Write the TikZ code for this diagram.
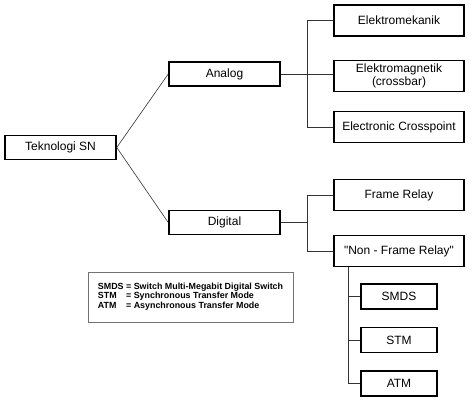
\documentclass[tikz,border=0pt]{standalone}
\usepackage{fontspec}
\setmainfont{Liberation Sans}
\usepackage{tikz}
\usepackage{xcolor}
\tikzset{
    sn-box/.style = {draw=black, fill=white, line width=1.5pt, rectangle, inner sep=0pt, align=center, font=\fontsize{12}{13}\selectfont},
    root-box/.style = {sn-box, minimum width=111pt, minimum height=24pt},
    leaf-box/.style = {sn-box, minimum width=130pt, minimum height=31pt},
    small-box/.style = {sn-box, minimum width=76pt, minimum height=25pt},
    sn-line/.style = {draw=black!80, line width=0.6pt},
    legend-box/.style = {draw=black!55, thin, rectangle, minimum width=205pt, minimum height=50pt, inner sep=0pt, font=\fontsize{8.9}{9.6}\selectfont\bfseries},
}

\begin{document}
\begin{tikzpicture}[x=1pt, y=-1pt]
\useasboundingbox (0,0) rectangle (474,402);
\node [root-box] (tek) at (60.5,147.5) {Teknologi SN};
\node [root-box] (analog) at (224.5,74) {Analog};
\node [root-box] (digital) at (224.5,222.5) {Digital};
\node [leaf-box] (mekanik) at (399,20.5) {Elektromekanik};
\node [leaf-box] (magnetik) at (399,76) {Elektromagnetik\\(crossbar)};
\node [leaf-box] (crosspoint) at (399,127) {Electronic Crosspoint};
\node [leaf-box] (frame) at (399,195) {Frame Relay};
\node [leaf-box] (nonframe) at (399,251) {\textquotedbl Non - Frame Relay\textquotedbl};
\node [small-box] (smds) at (399,296.5) {SMDS};
\node [small-box] (stm) at (399,340) {STM};
\node [small-box] (atm) at (399,383.5) {ATM};
\node [legend-box] (legend) at (190.5,297) {\begin{tabular}{@{}l@{ }l@{}}
    SMDS & = Switch Multi-Megabit Digital Switch \\
    STM & = Synchronous Transfer Mode \\
    ATM & = Asynchronous Transfer Mode
\end{tabular}};

\coordinate (a-fork) at (307,74);
\coordinate (d-fork) at (307,222.5);
\coordinate (n-fork) at (348,300);

\draw [sn-line] (tek.east) -- (analog.west);
\draw [sn-line] (tek.east) -- (digital.west);

\draw [sn-line] (analog.east) -- (analog.east -| magnetik.west);
\draw [sn-line] (mekanik.west) -- (mekanik.west -| a-fork) -- (crosspoint.west -| a-fork) -- (crosspoint.west);

\draw [sn-line] (digital.east) -- (d-fork);
\draw [sn-line] (frame.west) -- (frame.west -| d-fork) -- (nonframe.west -| d-fork) -- (nonframe.west);

\draw [sn-line] (nonframe.south -| n-fork) -- (atm.west -| n-fork) -- (atm.west);
\foreach \leaf in {smds,stm}
    \draw [sn-line] (\leaf.west -| n-fork) -- (\leaf.west);
\end{tikzpicture}
\end{document}
